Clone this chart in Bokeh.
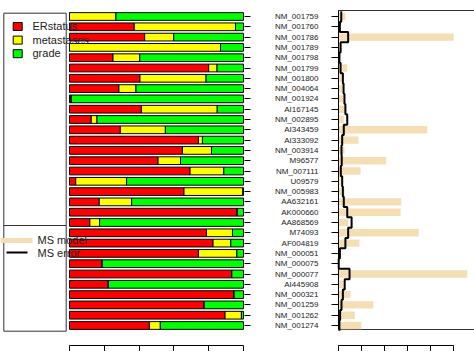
from bokeh.plotting import figure
from bokeh.models import Range1d, LinearAxis, FixedTicker, ColumnDataSource
from bokeh.embed import file_html
from bokeh.resources import INLINE
from bokeh.core.properties import value

# ---------------- data ----------------
genes = ["NM_001759", "NM_001760", "NM_001786", "NM_001789", "NM_001798",
         "NM_001799", "NM_001800", "NM_004064", "NM_001924", "AI167145",
         "NM_002895", "AI343459", "AI333092", "NM_003914", "M96577",
         "NM_007111", "U09579", "NM_005983", "AA632161", "AK000660",
         "AA868569", "M74093", "AF004819", "NM_000051", "NM_000075",
         "NM_000077", "AI445908", "NM_000321", "NM_001259", "NM_001262",
         "NM_001274"]
er_status = [0.0, 0.372, 0.432, 0.0, 0.25, 0.80, 0.405, 0.284, 0.01, 0.413,
             0.125, 0.292, 0.741, 0.649, 0.509, 0.693, 0.036, 0.658, 0.171, 0.964,
             0.117, 0.787, 0.825, 0.741, 0.188, 0.933, 0.223, 0.946, 0.774, 0.894,
             0.459]
metastases = [0.267, 0.582, 0.167, 0.868, 0.154, 0.048, 0.38, 0.098, 0.0, 0.436,
              0.033, 0.259, 0.023, 0.167, 0.129, 0.194, 0.292, 0.338, 0.186, 0.0,
              0.056, 0.15, 0.102, 0.221, 0.0, 0.0, 0.0, 0.0, 0.0, 0.094,
              0.063]
grade = [0.733, 0.046, 0.401, 0.132, 0.596, 0.152, 0.215, 0.618, 0.99, 0.151,
         0.842, 0.449, 0.236, 0.184, 0.362, 0.113, 0.672, 0.004, 0.643, 0.036,
         0.827, 0.063, 0.073, 0.038, 0.812, 0.067, 0.777, 0.054, 0.226, 0.012,
         0.478]
ms_model = [0.30, 0.05, 5.01, 0.16, 0.02, 0.38, 0.16, 0.16, 0.23, 0.30,
            0.23, 3.86, 0.87, 0.26, 2.07, 0.96, 0.09, 0.26, 2.73, 2.70,
            0.43, 3.48, 0.91, 0.02, 0.01, 5.60, 0.22, 0.52, 1.51, 0.71,
            0.99]
ms_error = [0.12, 0.06, 0.42, 0.09, 0.04, 0.09, 0.19, 0.22, 0.26, 0.30,
            0.38, 0.23, 0.16, 0.13, 0.14, 0.10, 0.16, 0.19, 0.23, 0.38,
            0.57, 0.42, 0.30, 0.06, 0.01, 0.48, 0.27, 0.19, 0.13, 0.07,
            0.04]
series_names = ["ERstatus", "metastases", "grade"]
series_colors = ["#FF0000", "#FFFF00", "#00FF00"]
ms_names = ["MS model", "MS error"]
frac_ticks = [0, 0.2, 0.4, 0.6, 0.8, 1.0]
ms_ticks = [0, 1, 2, 3, 4, 5]

# ---------------- geometry helpers (pixel -> data) ----------------
W, H = 474, 351
n = len(genes)
ROW0_PX, ROW_STEP = 16.0, 10.3
def py(px):
    return (n - 1) - (px - ROW0_PX) / ROW_STEP
BAR_X0, BAR_SCALE = 69.0, 174.0
def bx(px):
    return (px - BAR_X0) / BAR_SCALE
MS_X0, MS_SCALE = 338.0, 23.0
def mx(px):
    return (px - MS_X0) / MS_SCALE

ys = [n - 1 - i for i in range(n)]
FONT = value("Liberation Sans")

p = figure(width=W, height=H, output_backend="svg", toolbar_location=None,
           x_range=Range1d(bx(0), bx(W)), y_range=Range1d(py(H), py(0)),
           x_axis_location=None, y_axis_location=None, min_border=0)
p.extra_x_ranges = {"ms": Range1d(mx(0), mx(W))}
p.outline_line_color = None
p.xgrid.grid_line_color = None
p.ygrid.grid_line_color = None
p.background_fill_color = "white"

# ---------------- stacked bars ----------------
src = ColumnDataSource(dict(y=ys, er=er_status, met=metastases, grade=grade))
p.hbar_stack(["er", "met", "grade"], y="y", height=0.75, source=src,
             fill_color=series_colors, line_color="black", line_width=1)

# right-side row ticks of the bar panel
rax = LinearAxis(fixed_location=bx(244), ticker=FixedTicker(ticks=ys),
                 axis_line_color=None, major_tick_in=0, major_tick_out=6,
                 major_tick_line_color="black", minor_tick_line_color=None,
                 major_label_text_color=None)
p.add_layout(rax, "right")

# bottom axis of the bar panel
bax = LinearAxis(fixed_location=py(345), bounds=(0, 1),
                 ticker=FixedTicker(ticks=frac_ticks),
                 axis_line_color="black", major_tick_in=0, major_tick_out=7,
                 major_tick_line_color="black", minor_tick_line_color=None,
                 major_label_text_color=None)
p.add_layout(bax, "below")

# ---------------- MS panel ----------------
p.quad(left=0, right=mx(W + 10), bottom=py(329), top=py(10),
       fill_color=None, line_color="#333333", line_width=1, x_range_name="ms")
p.hbar(y=ys, left=0, right=ms_model, height=0.72, fill_color="#F5DEB3",
       line_color=None, x_range_name="ms")
sx, sy = [], []
for yv, e in zip(ys, ms_error):
    sx += [e, e]
    sy += [yv + 0.5, yv - 0.5]
p.line(sx, sy, line_color="black", line_width=2, x_range_name="ms")

gax = LinearAxis(x_range_name="ms", fixed_location=0, bounds=(py(329), py(10)),
                 ticker=FixedTicker(ticks=ys),
                 major_label_overrides={yv: g for yv, g in zip(ys, genes)},
                 axis_line_color="black", major_tick_in=0, major_tick_out=7,
                 major_tick_line_color="black", minor_tick_line_color=None,
                 major_label_standoff=13, major_label_text_font="Liberation Sans",
                 major_label_text_font_size="8px", major_label_text_color="#222222")
p.add_layout(gax, "left")

max_ = LinearAxis(x_range_name="ms", fixed_location=py(345), bounds=(0, 5),
                  ticker=FixedTicker(ticks=ms_ticks),
                  axis_line_color="black", major_tick_in=0, major_tick_out=7,
                  major_tick_line_color="black", minor_tick_line_color=None,
                  major_label_text_color=None)
p.add_layout(max_, "below")

# ---------------- legend panel ----------------
p.quad(left=bx(3.3), right=bx(65.7), bottom=py(330.7), top=py(12.7),
       fill_color=None, line_color="#333333", line_width=1)
p.segment(x0=bx(3.3), x1=bx(65.7), y0=py(225), y1=py(225),
          line_color="#333333", line_width=1)

leg_sq_y = [py(26), py(39.6), py(53.2)]
leg_tx_y = [py(25.5), py(39), py(52.5)]
p.rect(x=[bx(17.2)] * 3, y=leg_sq_y, width=9, height=8,
       width_units="screen", height_units="screen",
       fill_color=series_colors, line_color="black", line_width=1)
p.text(x=[bx(32)] * 3, y=leg_tx_y, text=series_names, text_font=FONT,
       text_font_size="11px", text_baseline="middle", text_align="left",
       text_color="#222222")

p.segment(x0=bx(0), x1=bx(32), y0=py(240), y1=py(240),
          line_color="#F5DEB3", line_width=5)
p.segment(x0=bx(6), x1=bx(27), y0=py(252), y1=py(252),
          line_color="black", line_width=2)
p.text(x=[bx(37)] * 2, y=[py(239.5), py(252.5)], text=ms_names, text_font=FONT,
       text_font_size="11px", text_baseline="middle", text_align="left",
       text_color="#222222")

open("out.html", "w").write(file_html(p, INLINE))
